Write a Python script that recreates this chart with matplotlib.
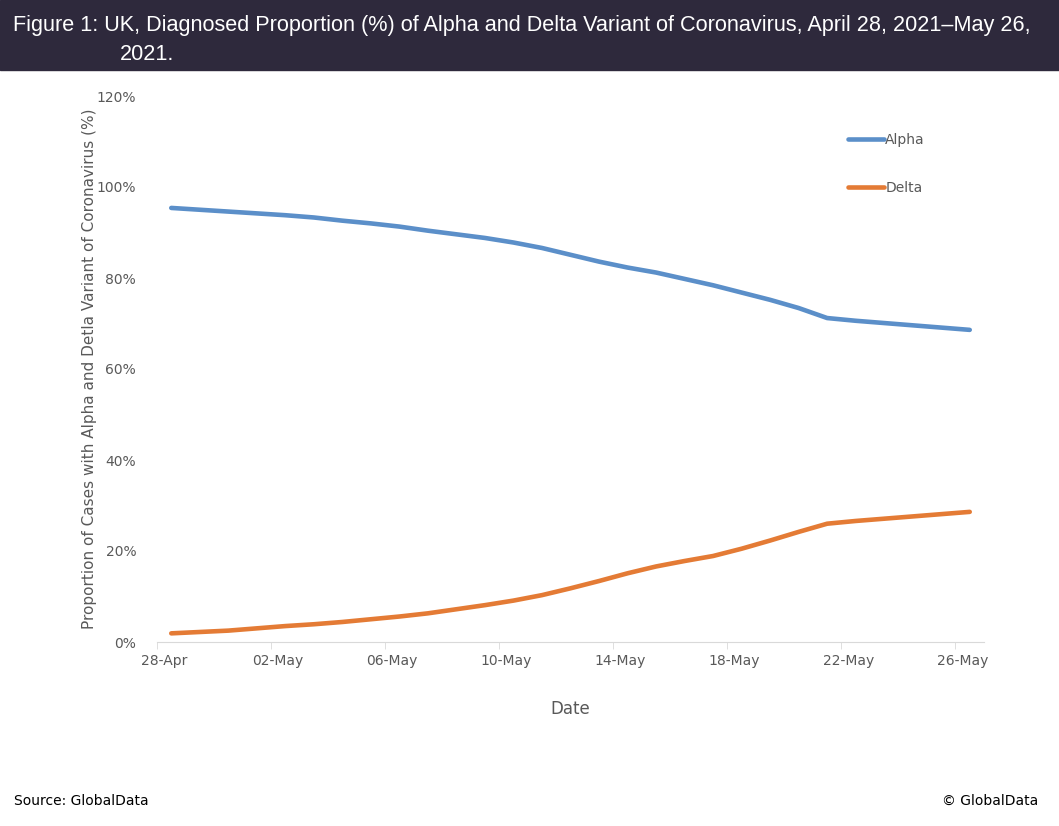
import matplotlib.pyplot as plt
import matplotlib.patches as patches

# Datos diarios (28-Apr a 26-May 2021)
dias = list(range(29))
alpha = [95.4, 95.0, 94.6, 94.2, 93.8, 93.3, 92.6, 92.0, 91.3, 90.4,
         89.6, 88.8, 87.8, 86.6, 85.1, 83.6, 82.3, 81.2, 79.8, 78.4,
         76.8, 75.2, 73.4, 71.2, 70.6, 70.1, 69.6, 69.1, 68.6]
delta = [1.9, 2.2, 2.5, 3.0, 3.5, 3.9, 4.4, 5.0, 5.6, 6.3,
         7.2, 8.1, 9.1, 10.3, 11.8, 13.4, 15.1, 16.6, 17.8, 18.9,
         20.5, 22.3, 24.2, 26.0, 26.6, 27.1, 27.6, 28.1, 28.6]
etiquetas_x = ["28-Apr", "02-May", "06-May", "10-May", "14-May", "18-May", "22-May", "26-May"]
ticks_y = [0, 20, 40, 60, 80, 100, 120]

gris = "#595959"
fig = plt.figure(figsize=(10.59, 8.26), dpi=100)

# Barra de titulo
fig.patches.append(patches.Rectangle((0, 1 - 70 / 826), 1, 70 / 826, transform=fig.transFigure,
                                     color="#2e293c", zorder=0))
fig.text(0.012, 1 - 26 / 826,
         "Figure 1: UK, Diagnosed Proportion (%) of Alpha and Delta Variant of Coronavirus, April 28, 2021\u2013May 26,",
         color="white", fontsize=15.6, va="center", ha="left",
         family=["Liberation Sans", "DejaVu Sans"])
fig.text(0.113, 1 - 54 / 826, "2021.", color="white", fontsize=15.6, va="center", ha="left",
         family=["Liberation Sans", "DejaVu Sans"])

ax = fig.add_axes([157 / 1059, 1 - 642 / 826, (984 - 157) / 1059, (642 - 96) / 826])

# Cada fecha ocupa una celda, el dato va en el centro
x = [d + 0.5 for d in dias]
ax.plot(x, alpha, color="#5b8fc9", linewidth=3.3, label="Alpha", solid_capstyle="round")
ax.plot(x, delta, color="#e47b35", linewidth=3.3, label="Delta", solid_capstyle="round")

ax.set_xlim(0, 29)
ax.set_ylim(0, 120)
ax.set_yticks(ticks_y)
ax.set_yticklabels([f"{v}%" for v in ticks_y])
ax.set_xticks([4 * i for i in range(8)], minor=True)
ax.set_xticks([4 * i + 0.25 for i in range(8)])
ax.set_xticklabels(etiquetas_x)
ax.tick_params(axis="x", which="major", length=0, pad=9, labelsize=10, labelcolor=gris)
ax.tick_params(axis="x", which="minor", length=5, color="#d9d9d9")
ax.tick_params(axis="y", length=0, pad=15, labelsize=10, labelcolor=gris)

for lado in ["top", "right", "left"]:
    ax.spines[lado].set_visible(False)
ax.spines["bottom"].set_color("#d9d9d9")

ax.set_xlabel("Date", fontsize=12, color=gris, labelpad=23)
ax.set_ylabel("Proportion of Cases with Alpha and Detla Variant of Coronavirus (%)",
              fontsize=11, color=gris, labelpad=0)

ax.legend(loc="upper left", bbox_to_anchor=(0.82, 0.955), frameon=False, fontsize=10,
          labelcolor=gris, handlelength=2.6, handletextpad=0.1, labelspacing=2.45)

fig.text(0.013, 1 - 801 / 826, "Source: GlobalData", fontsize=10, color="black", va="center")
fig.text(0.98, 1 - 801 / 826, "\u00a9 GlobalData", fontsize=10, color="black", va="center", ha="right")

fig.savefig("out.png", dpi=100)
